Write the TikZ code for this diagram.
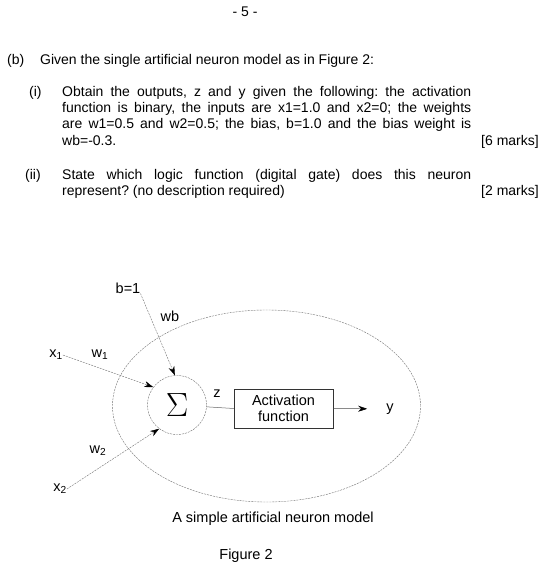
\documentclass[tikz,border=0pt]{standalone}
\usepackage{fontspec}
\setmainfont{Liberation Sans}
\usetikzlibrary{arrows.meta}
\frenchspacing
\begin{document}
\begin{tikzpicture}[x=1pt,y=-1pt,
  txt/.style={anchor=base west,inner sep=0pt,font=\fontsize{14}{16}\selectfont},
  lbl/.style={inner sep=0pt,font=\fontsize{14.5}{16}\selectfont},
  thinline/.style={draw=black!55,line width=0.4pt,dash pattern=on 2pt off 1pt},
  conn/.style={thinline,-{Stealth[black,length=9pt,width=6pt]}}]
\fill[white] (0,0) rectangle (542,569);
\useasboundingbox (0,0) rectangle (542,569);
% question text
\node[txt,anchor=base] (page) at (245,17) {- 5 -};
\node[txt] (pb) at (7,65) {(b)};
\node[txt] (pbt) at (40,65) {Given the single artificial neuron model as in Figure 2:};
\node[txt] (pi) at (29,97) {(i)};
\node[txt] (l1) at (62,97) {\makebox[409pt][s]{Obtain the outputs, z and y given the following: the activation}};
\node[txt] (l2) at (62,113) {\makebox[409pt][s]{function is binary, the inputs are x1=1.0 and x2=0; the weights}};
\node[txt] (l3) at (62,129) {\makebox[409pt][s]{are w1=0.5 and w2=0.5; the bias, b=1.0 and the bias weight is}};
\node[txt] (l4) at (62,146) {wb=-0.3.};
\node[txt,anchor=base east] (m6) at (539,146) {[6 marks]};
\node[txt] (pii) at (25,180) {(ii)};
\node[txt] (l5) at (62,180) {\makebox[409pt][s]{State which logic function (digital gate) does this neuron}};
\node[txt] (l6) at (62,196) {represent? (no description required)};
\node[txt,anchor=base east] (m2) at (539,196) {[2 marks]};
% diagram
\draw[thinline] (266.5,406) ellipse [x radius=154pt, y radius=96pt];
\node[lbl] (b) at (128,288) {b=1};
\node[lbl] (wb) at (170,316) {wb};
\node[lbl] (x1) at (56,355) {x\textsubscript{1}};
\node[lbl] (w1) at (100,355) {w\textsubscript{1}};
\node[lbl] (x2) at (60,489) {x\textsubscript{2}};
\node[lbl] (w2) at (98,451) {w\textsubscript{2}};
\node[circle,thinline,minimum size=59pt,inner sep=0pt] (sum) at (177,405) {\scalebox{1.35}{\Huge$\Sigma$}};
\node[lbl] (z) at (217,394) {z};
\node[draw=black!80,line width=0.5pt,minimum width=99pt,minimum height=39pt,align=center,inner sep=0pt,font=\fontsize{14.5}{16.5}\selectfont] (act) at (283.5,408.5) {Activation\\function};
\node[lbl] (y) at (390,409) {y};
\draw[conn] (x1.east) -- (sum.143);
\draw[conn] (x2.east) -- (sum.233);
\draw[conn] (b.south east) -- (sum.94);
\draw[draw=black!60,line width=0.5pt] (sum) -- (act.west);
\draw[draw=black!70,line width=0.5pt,-{Stealth[black,length=9pt,width=6pt]},shorten >=19pt] (act.east) -- (y.west);
\node[lbl] (cap) at (273,519) {A simple artificial neuron model};
\node[lbl] (fig) at (246,556) {Figure 2};
\end{tikzpicture}
\end{document}
